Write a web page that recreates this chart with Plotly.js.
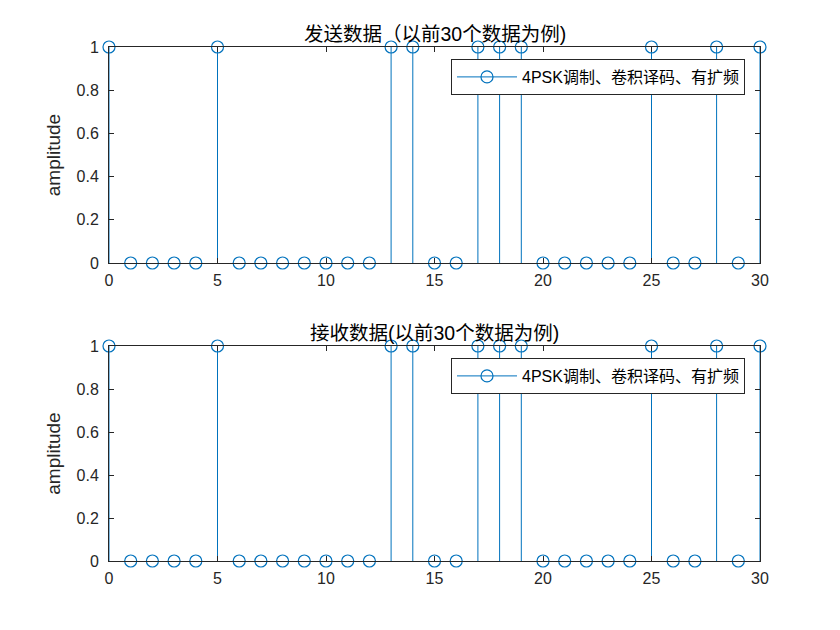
<!DOCTYPE html>
<html><head><meta charset="utf-8">
<script src="https://cdn.plot.ly/plotly-3.0.1.min.js"></script>
<style>body{margin:0;background:#fff}</style>
</head><body>
<div id="chart" style="width:840px;height:630px"></div>
<script>
const indices = [0,1,2,3,4,5,6,7,8,9,10,11,12,13,14,15,16,17,18,19,20,21,22,23,24,25,26,27,28,29,30];
const sentData = [1,0,0,0,0,1,0,0,0,0,0,0,0,1,1,0,0,1,1,1,0,0,0,0,0,1,0,0,1,0,1];
const recvData = [1,0,0,0,0,1,0,0,0,0,0,0,0,1,1,0,0,1,1,1,0,0,0,0,0,1,0,0,1,0,1];
const titles = ['发送数据（以前30个数据为例)', '接收数据(以前30个数据为例)'];
const legendLabel = '4PSK调制、卷积译码、有扩频';
const yLabel = 'amplitude';
const xTicks = [0,5,10,15,20,25,30];
const yTicks = [0,0.2,0.4,0.6,0.8,1];
const yTickText = ['0','0.2','0.4','0.6','0.8','1'];

const stemColor = '#0072BD';
const ink = '#262626';
const cjk = '"Liberation Sans", Arial, "Noto Sans CJK SC", sans-serif';

function stems(xs, ys, xa, ya) {
  const sx = [], sy = [];
  xs.forEach((x, i) => { sx.push(x, x, null); sy.push(0, ys[i], null); });
  return {x: sx, y: sy, xaxis: xa, yaxis: ya, mode: 'lines', type: 'scatter',
    line: {color: stemColor, width: 1}, showlegend: false, hoverinfo: 'skip', cliponaxis: false};
}
const markerStyle = {symbol: 'circle-open', size: 12, color: stemColor, line: {width: 1.2, color: stemColor}};
function markerTrace(xs, ys, xa, ya) {
  return {x: xs, y: ys, xaxis: xa, yaxis: ya, mode: 'markers', type: 'scatter',
    marker: markerStyle, showlegend: false, cliponaxis: false};
}
function legendTrace(xa, ya, leg) {
  return {x: [null], y: [null], xaxis: xa, yaxis: ya, mode: 'lines+markers', type: 'scatter',
    line: {color: stemColor, width: 1}, marker: markerStyle,
    name: legendLabel, legend: leg, showlegend: true};
}

const data = [
  stems(indices, sentData, 'x', 'y'),
  markerTrace(indices, sentData, 'x', 'y'),
  legendTrace('x', 'y', 'legend'),
  stems(indices, recvData, 'x2', 'y2'),
  markerTrace(indices, recvData, 'x2', 'y2'),
  legendTrace('x2', 'y2', 'legend2')
];

function xax(anchor) {
  return {domain: [109/840, 760/840], anchor: anchor, range: [0, 30], tickvals: xTicks,
    ticks: 'inside', ticklen: 5, tickcolor: ink, mirror: 'ticks', showline: true, linecolor: ink, linewidth: 1,
    showgrid: false, zeroline: false, ticklabelstandoff: 3, tickfont: {family: cjk, size: 16, color: ink}};
}
function yax(anchor, dom) {
  return {domain: dom, anchor: anchor, range: [0, 1], tickvals: yTicks, ticktext: yTickText,
    ticks: 'inside', ticklen: 5, tickcolor: ink, mirror: 'ticks', showline: true, linecolor: ink, linewidth: 1,
    showgrid: false, zeroline: false, ticklabelstandoff: 6, tickfont: {family: cjk, size: 16, color: ink},
    title: {text: yLabel, font: {family: cjk, size: 19, color: ink}, standoff: 10}};
}
const legStyle = (ytop) => ({x: 745/840, xanchor: 'right', y: ytop, yanchor: 'top', xref: 'paper', yref: 'paper',
  bgcolor: '#ffffff', bordercolor: ink, borderwidth: 1, font: {family: cjk, size: 16, color: '#000'},
  itemwidth: 60, tracegroupgap: 0});

const layout = {
  width: 840, height: 630, margin: {l: 0, r: 0, t: 0, b: 0},
  paper_bgcolor: '#fff', plot_bgcolor: '#fff',
  xaxis: xax('y'), yaxis: yax('x', [1-263/630, 1-47/630]),
  xaxis2: xax('y2'), yaxis2: yax('x2', [1-561/630, 1-346/630]),
  legend: legStyle(1-59/630),
  legend2: legStyle(1-358/630),
  annotations: [
    {text: titles[0], xref: 'x domain', yref: 'y domain', x: 0.5, y: 1, yanchor: 'bottom', yshift: 0, showarrow: false,
     font: {family: cjk, size: 19.5, color: '#000'}},
    {text: titles[1], xref: 'x2 domain', yref: 'y2 domain', x: 0.5, y: 1, yanchor: 'bottom', yshift: 0, showarrow: false,
     font: {family: cjk, size: 19.5, color: '#000'}}
  ],
  showlegend: true
};
Plotly.newPlot('chart', data, layout, {staticPlot: true});
</script>
</body></html>
